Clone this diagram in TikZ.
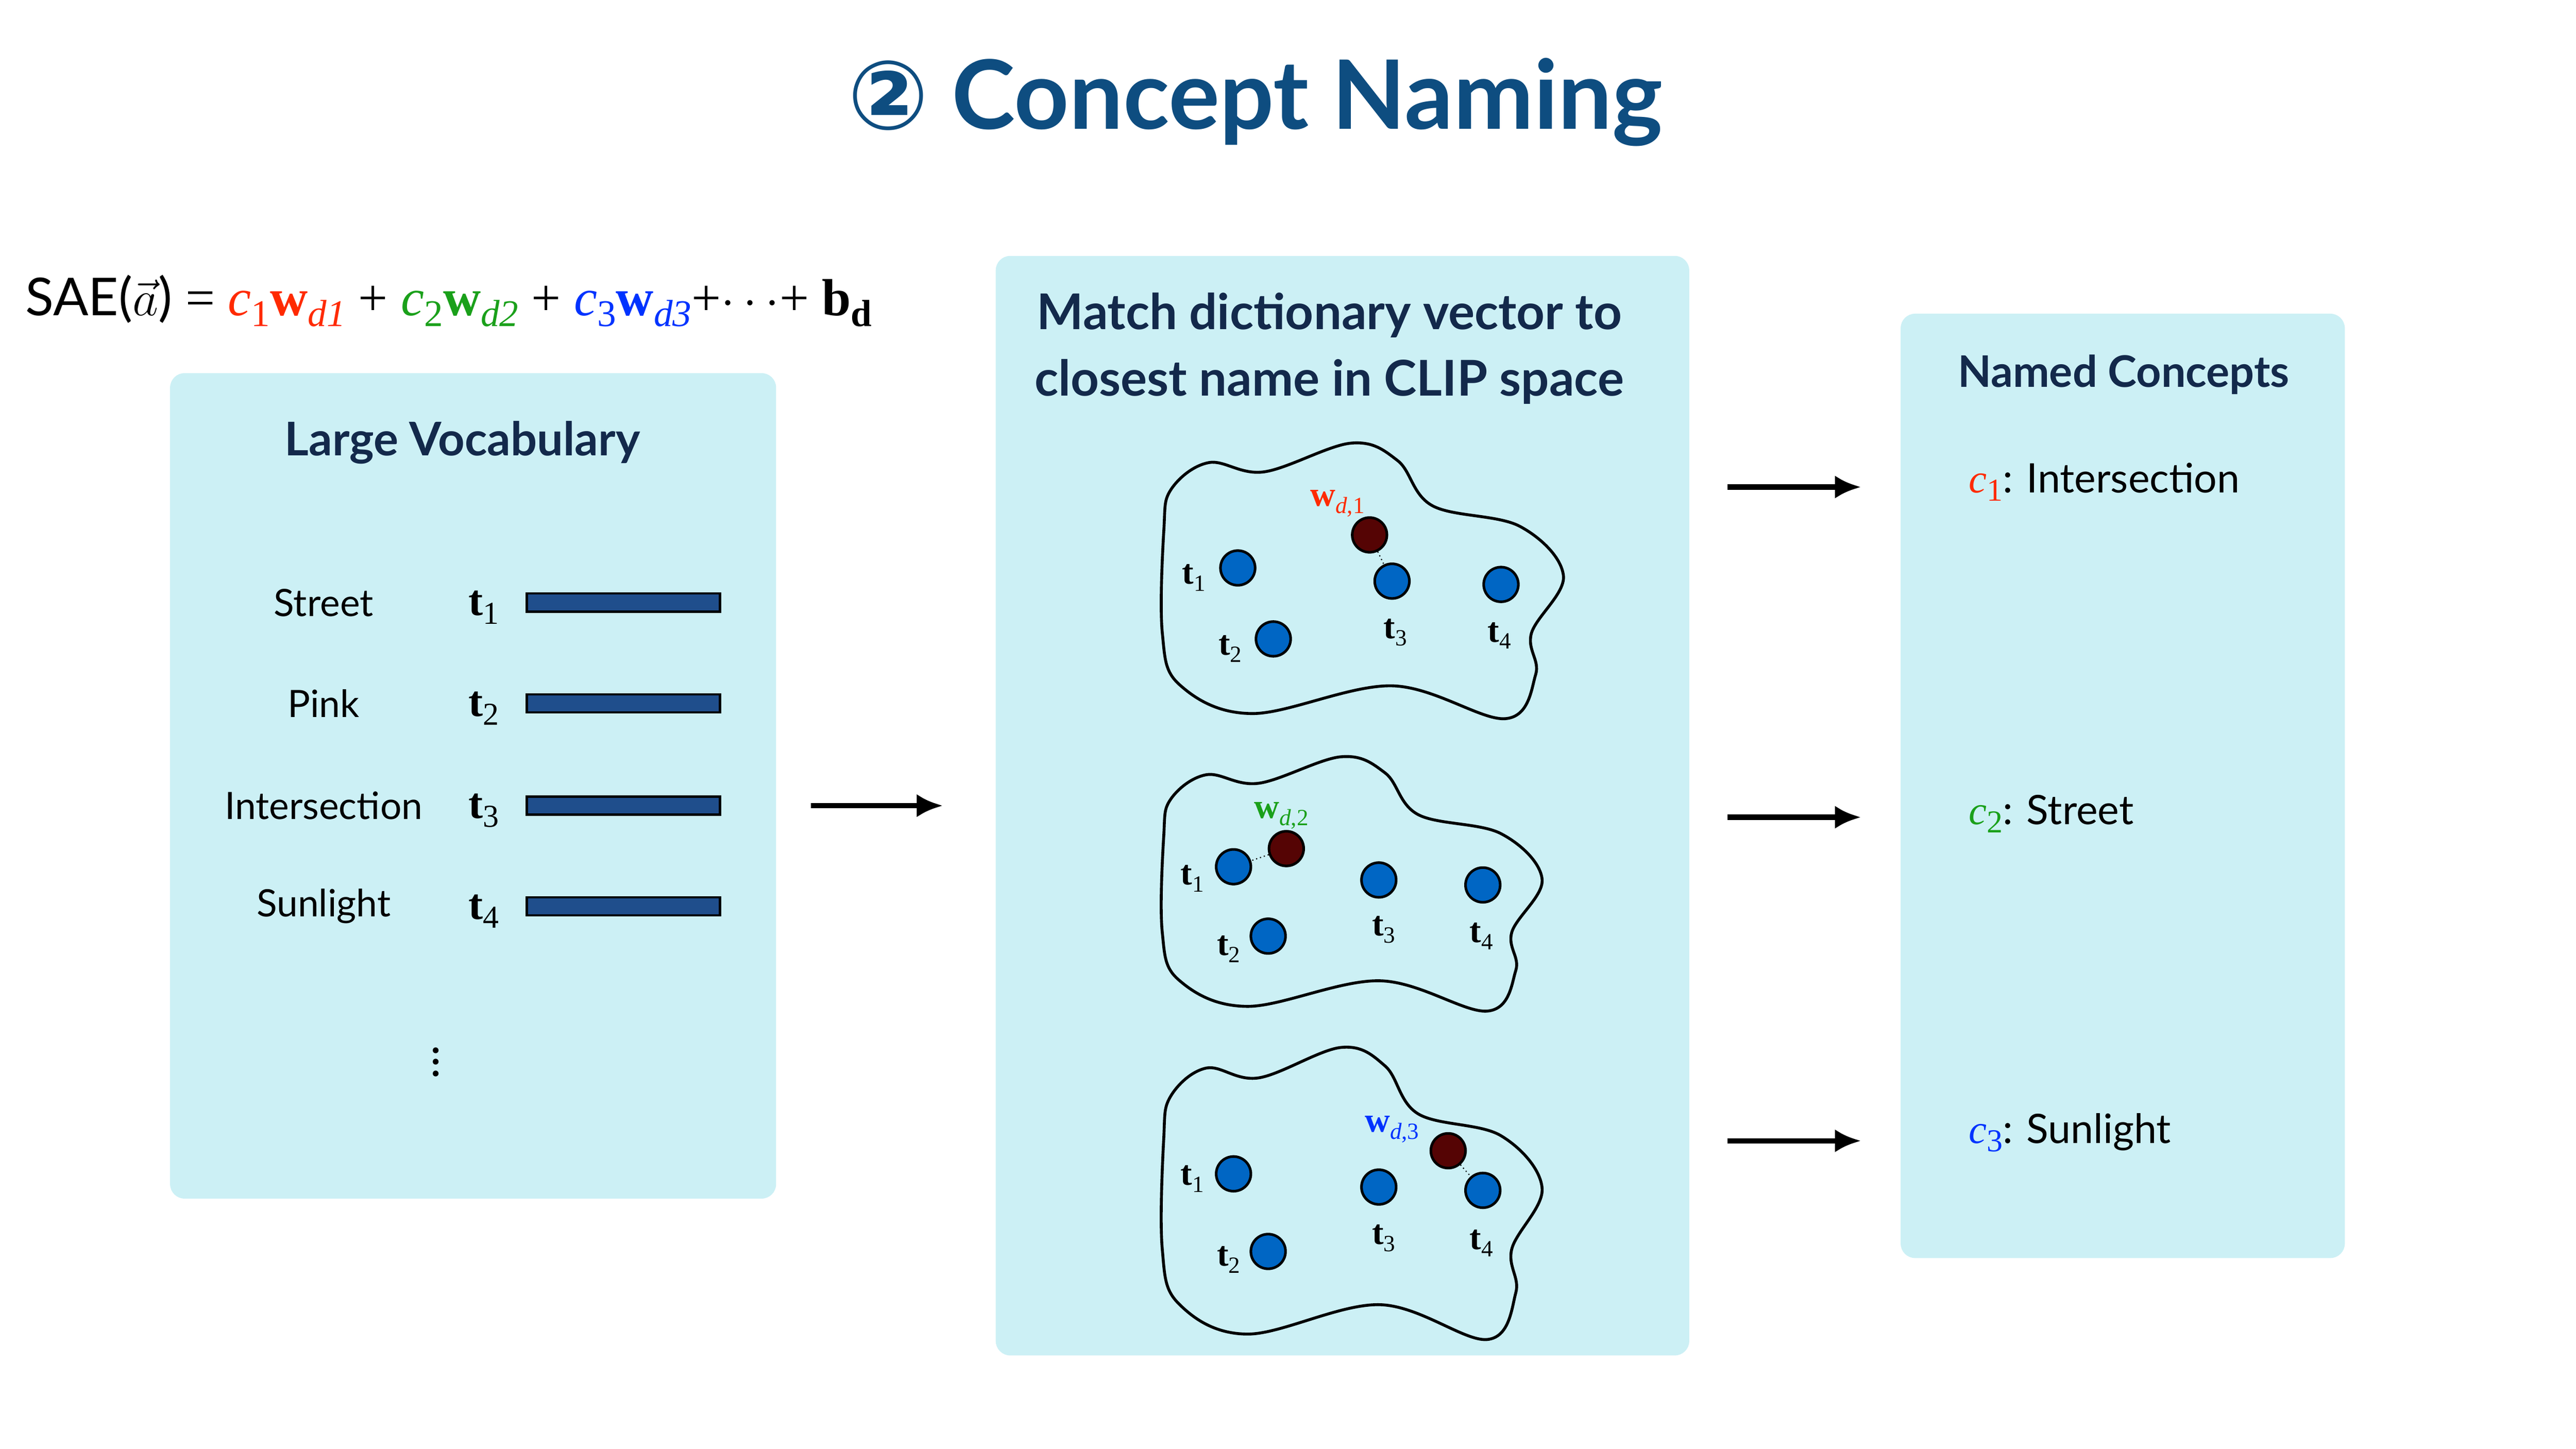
\documentclass[tikz,border=0pt]{standalone}
\usepackage{fontspec}
\usetikzlibrary{arrows.meta}
\setmainfont{Lato}
\newfontfamily\tms{Liberation Serif}
\newfontfamily\djv{DejaVu Sans}
\definecolor{boxc}{HTML}{CCF0F5}
\definecolor{titc}{HTML}{0E4D80}
\definecolor{navy}{HTML}{13294B}
\definecolor{barc}{HTML}{1F4E8C}
\definecolor{dotc}{HTML}{0066C4}
\definecolor{wc}{HTML}{550404}
\definecolor{cr}{HTML}{FF2A00}
\definecolor{cg}{HTML}{1AA01A}
\definecolor{cb}{HTML}{0033FF}
\newcommand\lsub[1]{\raisebox{-0.45ex}{\fontsize{13}{13}\selectfont #1}}
\newcommand\nsub[1]{\raisebox{-0.45ex}{\fontsize{11}{11}\selectfont #1}}
\newcommand\ssub[1]{\raisebox{-0.45ex}{\fontsize{8}{8}\selectfont #1}}
\newcommand\tl[1]{{\tms\bfseries t\nsub{\mdseries #1}}}
\newcommand\ts[1]{{\tms\fontsize{12}{12}\selectfont\bfseries t\ssub{\mdseries #1}}}
\newcommand\ws[1]{{\tms\fontsize{12}{12}\selectfont\bfseries w\ssub{\mdseries\itshape d\upshape,#1}}}
\begin{document}
\begin{tikzpicture}[x=0.02cm,y=-0.02cm,
  bg/.style={fill=boxc,rounded corners=5pt},
  bar/.style={draw=black,fill=barc,line width=0.8pt},
  tdot/.style={circle,draw=black,fill=dotc,line width=0.9pt,minimum size=21*0.02cm,inner sep=0pt},
  wdot/.style={circle,draw=black,fill=wc,line width=0.9pt,minimum size=21*0.02cm,inner sep=0pt},
  arr/.style={-{Latex[length=9pt,width=8pt]},line width=1.8pt},
  blob/.style={line width=1pt},
  lbl/.style={font=\fontsize{13}{15}\selectfont}]
\useasboundingbox (0,0) rectangle (1560,877.4);
\node (title) at (760,62) {\color{titc}\fontsize{33}{38}\selectfont\bfseries{\djv ②} Concept Naming};
\node[anchor=base west,inner sep=0pt] (eq) at (15,191) {\fontsize{18}{20}\selectfont SAE({\tms\itshape$\vec{a}$}) {\tms= \color{cr}\itshape c\lsub{\upshape 1}\upshape\bfseries w\lsub{\mdseries\itshape d1} \color{black}\mdseries\upshape+ \color{cg}\itshape c\lsub{\upshape 2}\upshape\bfseries w\lsub{\mdseries\itshape d2} \color{black}\mdseries\upshape+ \color{cb}\itshape c\lsub{\upshape 3}\upshape\bfseries w\lsub{\mdseries\itshape d3}\color{black}\mdseries\upshape+$\cdots$+ \bfseries b\lsub{d}}};
% left box
\path[bg] (103,226) rectangle (470,726);
\node (lv) at (280,268) {\color{navy}\fontsize{16}{18}\selectfont\bfseries Large Vocabulary};
\foreach \n/\w/\y in {1/Street/365,2/Pink/426,3/Intersection/488,4/Sunlight/549}{
  \node[lbl] (w\n) at (196,\y) {\w};
  \node (tt\n) at (293,\y+3) {\fontsize{15}{17}\selectfont\tl{\n}};
  \draw[bar] (319,\y-5.5) rectangle (436,\y+5.5);
}
\node[font=\fontsize{16}{18}\selectfont] (vd) at (264,638) {$\vdots$};
% middle box
\path[bg] (603,155) rectangle (1023,821);
\node[align=center,font=\fontsize{17}{23}\selectfont\bfseries,text=navy] (mt) at (805,211) {Match dictionary vector to\\closest name in CLIP space};
\newcommand\blobpath{\draw[blob] plot[smooth cycle,tension=0.6] coordinates {(1.8,53.3)(0.9,115.6)(11.4,146.8)(55.4,164.2)(139.9,147.4)(208.6,167.3)(227,140.5)(224.4,115.6)(243.8,80.7)(217.4,50.8)(164.6,38.4)(143.4,11)(115.3,0.4)(62.5,17.8)(29,12.2)(6.2,28.4)};}
\begin{scope}[shift={(703,268)}]\blobpath\end{scope}
\begin{scope}[shift={(703,458)},xscale=0.947,yscale=0.923]\blobpath\end{scope}
\begin{scope}[shift={(703,634)},xscale=0.947,yscale=1.06]\blobpath\end{scope}
% blob 1
\node[tdot] (a1) at (749.6,344) {};
\node[tdot] (a2) at (771.1,387) {};
\node[tdot] (a3) at (843,352) {};
\node[tdot] (a4) at (909,354) {};
\node[wdot] (aw) at (829.4,324) {};
\draw[densely dotted,thin] (aw) -- (a3);
\node (la1) at (723,350) {\ts1};
\node (la2) at (745,393) {\ts2};
\node (la3) at (845,383) {\ts3};
\node (la4) at (908,385) {\ts4};
\node (law) at (810,305) {\color{cr}\ws1};
% blob 2
\node[tdot] (b1) at (747,525) {};
\node[tdot] (b2) at (768,567) {};
\node[tdot] (b3) at (835,533) {};
\node[tdot] (b4) at (898,536) {};
\node[wdot] (bw) at (779,514) {};
\draw[densely dotted,thin] (bw) -- (b1);
\node (lb1) at (722,532) {\ts1};
\node (lb2) at (744,575) {\ts2};
\node (lb3) at (838,563) {\ts3};
\node (lb4) at (897,567) {\ts4};
\node (lbw) at (776,494) {\color{cg}\ws2};
% blob 3
\node[tdot] (c1) at (747,711) {};
\node[tdot] (c2) at (768,758) {};
\node[tdot] (c3) at (835,719) {};
\node[tdot] (c4) at (898,721) {};
\node[wdot] (cw) at (877,697) {};
\draw[densely dotted,thin] (cw) -- (c4);
\node (lc1) at (722,714) {\ts1};
\node (lc2) at (744,763) {\ts2};
\node (lc3) at (838,750) {\ts3};
\node (lc4) at (897,753) {\ts4};
\node (lcw) at (843,684) {\color{cb}\ws3};
% right box
\path[bg] (1151,190) rectangle (1420,762);
\node (nc) at (1286,227) {\color{navy}\fontsize{15}{17}\selectfont\bfseries Named Concepts};
\node[anchor=west,font=\fontsize{14}{16}\selectfont] (n1) at (1186,292) {{\tms\itshape\color{cr}c\nsub{\upshape 1}}: Intersection};
\node[anchor=west,font=\fontsize{14}{16}\selectfont] (n2) at (1186,493) {{\tms\itshape\color{cg}c\nsub{\upshape 2}}: Street};
\node[anchor=west,font=\fontsize{14}{16}\selectfont] (n3) at (1186,686) {{\tms\itshape\color{cb}c\nsub{\upshape 3}}: Sunlight};
% arrows
\coordinate (p0) at (491,488); \coordinate (q0) at (571,488);
\draw[arr] (p0) -- (q0);
\foreach \i/\y in {1/295,2/495,3/691}{
  \coordinate (p\i) at (1046,\y); \coordinate (q\i) at (1127,\y);
  \draw[arr] (p\i) -- (q\i);
}
\end{tikzpicture}
\end{document}
